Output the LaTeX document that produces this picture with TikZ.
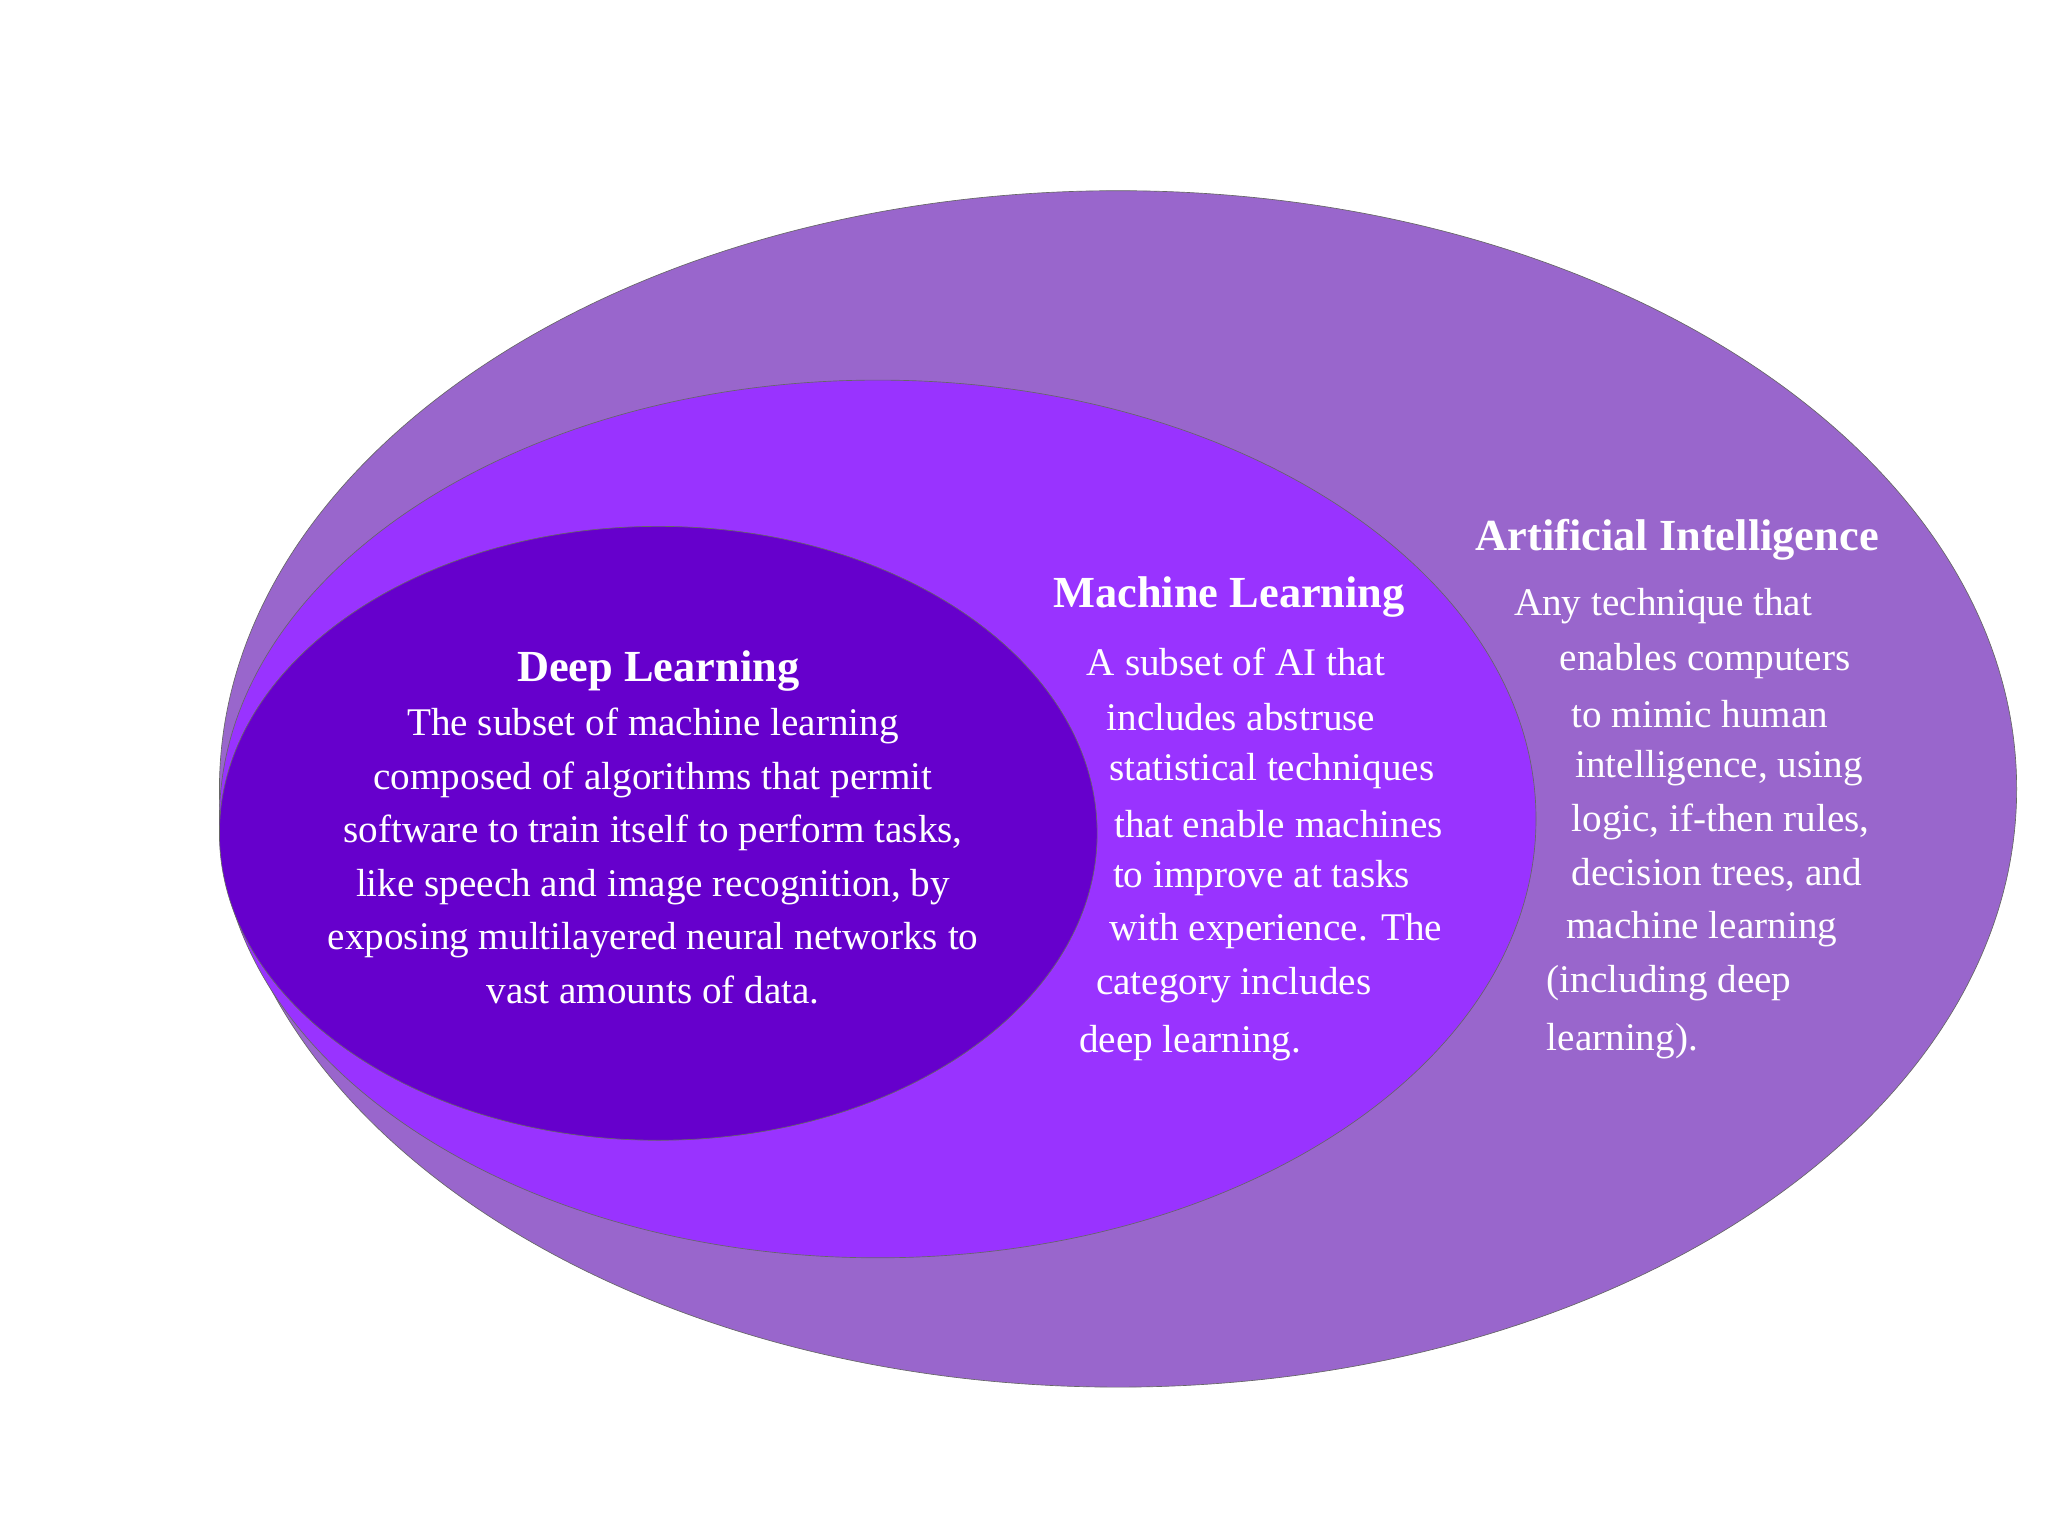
\documentclass[tikz,border=0pt]{standalone}
\usepackage{fontspec}
\setmainfont{Liberation Serif}
\definecolor{aic}{HTML}{9966CC}
\definecolor{mlc}{HTML}{9933FF}
\definecolor{dlc}{HTML}{6600CC}
\begin{document}
\begin{tikzpicture}[x=1pt,y=-1pt,
  ell/.style={draw=black!60,line width=0.5pt},
  ttl/.style={text=white,font=\fontsize{34}{40}\selectfont\bfseries},
  bd/.style={text=white,font=\fontsize{30}{41}\selectfont,anchor=west,inner sep=0pt},
  bdc/.style={text=white,font=\fontsize{30}{41}\selectfont,align=center,inner sep=0pt}]
\fill[white] (0,0) rectangle (1568,1175);
\useasboundingbox (0,0) rectangle (1568,1175);
\filldraw[ell,fill=aic] (856,604) ellipse [x radius=688,y radius=458];
\filldraw[ell,fill=mlc] (672,627) ellipse [x radius=504,y radius=336];
\filldraw[ell,fill=dlc] (504,638) ellipse [x radius=336,y radius=235];
\node[ttl] (dlt) at (504,514) {Deep Learning};
\node[bdc,anchor=north] (dlb) at (500,542) {The subset of machine learning\\composed of algorithms that permit\\software to train itself to perform tasks,\\like speech and image recognition, by\\exposing multilayered neural networks to\\vast amounts of data.};
\node[ttl] (mlt) at (941,457) {Machine Learning};
\node[bd] (m1) at (832,507) {A subset of AI that};
\node[bd] (m2) at (847,549) {includes abstruse};
\node[bd] (m3) at (849,590) {statistical techniques};
\node[bd] (m4) at (853,631) {that enable machines};
\node[bd] (m5) at (852,672) {to improve at tasks};
\node[bd] (m6) at (849,713) {with experience. The};
\node[bd] (m7) at (839,754) {category includes};
\node[bd] (m8) at (826,799) {deep learning.};
\node[ttl] (ait) at (1284,413) {Artificial Intelligence};
\node[bd] (a1) at (1159,464) {Any technique that};
\node[bd] (a2) at (1194,506) {enables computers};
\node[bd] (a3) at (1203,547) {to mimic human};
\node[bd] (a4) at (1206,588) {intelligence, using};
\node[bd] (a5) at (1203,629) {logic, if-then rules,};
\node[bd] (a6) at (1203,670) {decision trees, and};
\node[bd] (a7) at (1199,711) {machine learning};
\node[bd] (a8) at (1184,753) {(including deep};
\node[bd] (a9) at (1184,797) {learning).};
\end{tikzpicture}
\end{document}
